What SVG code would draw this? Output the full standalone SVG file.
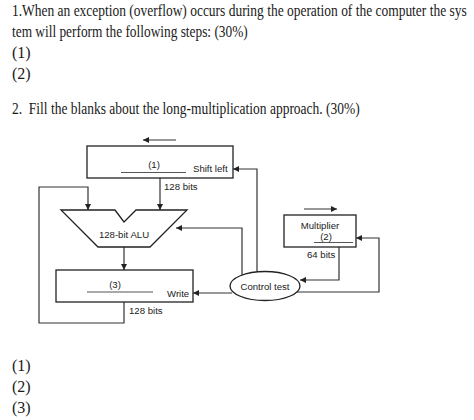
<svg xmlns="http://www.w3.org/2000/svg" width="474" height="420" viewBox="0 0 474 420">
<style>
.q{font-family:"Liberation Serif","Times New Roman",serif;font-size:16px;fill:#1a1a1a}
.d{font-family:"Liberation Sans",Arial,sans-serif;font-size:9.6px;fill:#222}
.box{fill:#fff;stroke:#222;stroke-width:1.3}
.ln{fill:none;stroke:#333;stroke-width:1.2}
.ul{stroke:#555;stroke-width:1.2}
</style>
<defs>
<marker id="ah" viewBox="0 0 10 10" refX="10" refY="5" markerWidth="7" markerHeight="6" markerUnits="userSpaceOnUse" orient="auto">
<path d="M0,0 L10,5 L0,10 z" fill="#222"/>
</marker>
</defs>
<rect width="474" height="420" fill="#fff"/>
<g id="question">
<g transform="translate(12 0) scale(0.842 1)">
<text class="q" x="0" y="16.5" textLength="540" lengthAdjust="spacingAndGlyphs">1.When an exception (overflow) occurs during the operation of the computer the sys</text>
<text class="q" x="0" y="37" textLength="280" lengthAdjust="spacingAndGlyphs">tem will perform the following steps: (30%)</text>
<text class="q" x="0" y="114" textLength="413" lengthAdjust="spacingAndGlyphs" xml:space="preserve">2.  Fill the blanks about the long-multiplication approach. (30%)</text>
</g>
<text class="q" x="12" y="58">(1)</text>
<text class="q" x="12" y="79">(2)</text>
<text class="q" x="12" y="371">(1)</text>
<text class="q" x="12" y="392">(2)</text>
<text class="q" x="12" y="413">(3)</text>
</g>
<g id="connectors">
<line class="ln" x1="176" y1="140" x2="143" y2="140" marker-end="url(#ah)"/>
<polyline class="ln" points="257,272 257,169 233,169" marker-end="url(#ah)"/>
<line class="ln" x1="160" y1="178" x2="160" y2="210" marker-end="url(#ah)"/>
<polyline class="ln" points="124,302 124,323 39,323 39,187 88,187 88,210" marker-end="url(#ah)"/>
<line class="ln" x1="124" y1="247" x2="124" y2="270" marker-end="url(#ah)"/>
<polyline class="ln" points="242,276 242,228 176,228" marker-end="url(#ah)"/>
<line class="ln" x1="232" y1="293" x2="193" y2="293" marker-end="url(#ah)"/>
<line class="ln" x1="304" y1="209" x2="337" y2="209" marker-end="url(#ah)"/>
<polyline class="ln" points="339,247 339,280 300,280" marker-end="url(#ah)"/>
<polyline class="ln" points="297,292 379,292 379,238 356,238" marker-end="url(#ah)"/>
</g>
<g id="shift-register">
<rect class="box" x="87" y="146" width="146" height="32"/>
<text class="d" x="154" y="168" text-anchor="middle">(1)</text>
<line class="ul" x1="121" y1="172.5" x2="186" y2="172.5"/>
<text class="d" x="193" y="171.5">Shift left</text>
<text class="d" x="164" y="189.5">128 bits</text>
</g>
<g id="alu">
<polygon class="box" points="61,210 115,210 124,222 136,210 187,210 150,247 98,247"/>
<text class="d" x="124" y="237.5" text-anchor="middle">128-bit ALU</text>
</g>
<g id="product-register">
<rect class="box" x="56" y="270" width="137" height="32"/>
<text class="d" x="115" y="288" text-anchor="middle">(3)</text>
<line class="ul" x1="87" y1="292" x2="153" y2="292"/>
<text class="d" x="167" y="296.5">Write</text>
<text class="d" x="129" y="313.5">128 bits</text>
</g>
<g id="multiplier">
<rect class="box" x="284" y="215" width="72" height="32"/>
<text class="d" x="320" y="228.5" text-anchor="middle">Multiplier</text>
<text class="d" x="326" y="239.5" text-anchor="middle">(2)</text>
<line class="ul" x1="314" y1="242.5" x2="353" y2="242.5"/>
<text class="d" x="307" y="258">64 bits</text>
</g>
<g id="control-test">
<ellipse class="box" cx="265" cy="286" rx="35" ry="14.5"/>
<text class="d" x="265" y="289.5" text-anchor="middle">Control test</text>
</g>
</svg>
